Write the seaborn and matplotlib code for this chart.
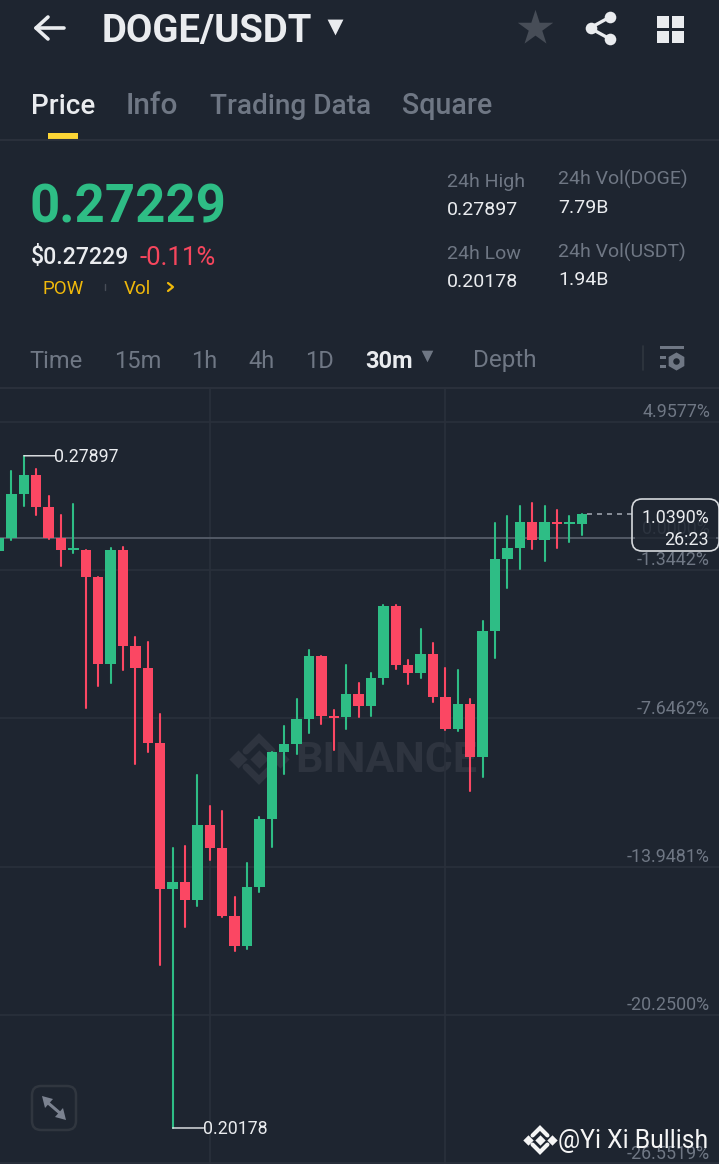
import matplotlib.pyplot as plt
import matplotlib.patches as mpatches
from matplotlib.transforms import ScaledTranslation
import pandas as pd
import seaborn as sns

# candles, in % from the chart's zero line (one candle per 30m)
open_pct = [-0.54, 0.00, 1.87, 2.68, 1.32, 0.00, -0.51, -0.51, -1.64, -5.32, -0.51, -4.58,
            -5.49, -8.70, -14.90, -14.61, -15.36, -12.16, -13.15, -16.04, -17.31, -14.81, -11.92, -9.06,
            -8.72, -7.66, -5.00, -7.55, -7.60, -6.60, -7.11, -5.94, -2.86, -5.38, -5.71, -4.92,
            -6.75, -8.11, -7.02, -9.30, -3.92, -0.88, -0.40, 0.68, -0.06, 0.68, 0.60, 0.62]
close_pct = [0.00, 1.87, 2.68, 1.32, 0.00, -0.51, -0.42, -1.64, -5.32, -0.51, -4.58, -5.49,
             -8.70, -14.90, -14.61, -15.36, -12.16, -13.15, -16.04, -17.31, -14.81, -11.92, -9.06, -8.72,
             -7.66, -5.00, -7.55, -7.63, -6.60, -7.11, -5.94, -2.86, -5.38, -5.71, -4.92, -6.75,
             -8.11, -7.02, -9.30, -3.92, -0.88, -0.40, 0.68, -0.06, 0.68, 0.60, 0.68, 1.04]
high_pct = [0.00, 2.88, 3.51, 2.94, 1.81, 1.01, 1.46, -0.51, -1.64, -0.42, -0.38, -4.20,
            -4.41, -7.45, -13.17, -13.08, -10.07, -11.37, -11.60, -15.22, -13.81, -11.85, -9.06, -7.97,
            -6.82, -4.74, -5.00, -7.30, -5.37, -6.13, -5.71, -2.84, -2.84, -5.18, -3.84, -4.46,
            -5.52, -5.60, -6.84, -3.52, 0.64, 0.96, 1.38, 1.49, 1.36, 1.21, 0.94, 1.04]
low_pct = [-0.54, -0.06, 1.38, 0.99, -0.04, -1.17, -0.61, -7.19, -6.26, -6.16, -5.59, -9.60,
           -9.06, -18.11, -25.05, -16.52, -15.62, -13.66, -16.09, -17.52, -17.43, -15.02, -13.10, -9.99,
           -9.17, -8.26, -7.87, -8.98, -8.09, -7.59, -7.53, -6.17, -5.56, -6.17, -5.92, -6.94,
           -8.13, -8.17, -10.73, -10.15, -5.09, -2.09, -1.29, -0.46, -0.95, -0.40, -0.17, 0.16]

tick_values = [4.9577, 0.0, -1.3442, -7.6462, -13.9481, -20.25, -26.5519]
tick_labels = ['4.9577%', '0.0000%', '-1.3442%', '-7.6462%', '-13.9481%', '-20.2500%', '-26.5519%']
x_grid = [17, 36]
high_label = '0.27897'
low_label = '0.20178'
last_pct = 1.039

BG = '#1e2530'
GRID = '#2a303b'
GREEN = '#2ebd85'
RED = '#fb4763'
GREY = '#6f7784'
WHITE = '#eaecef'
YELLOW = '#f0b90b'

sns.set_theme(style='dark')
plt.rcParams['font.family'] = ['Roboto', 'DejaVu Sans']

candles = pd.DataFrame({'i': range(len(open_pct)), 'open': open_pct, 'close': close_pct,
                        'high': high_pct, 'low': low_pct})
candles['bottom'] = candles[['open', 'close']].min(axis=1)
candles['body'] = (candles['close'] - candles['open']).abs().clip(lower=0.09)
candles['up'] = candles['close'] >= candles['open']

wicks = candles.melt(id_vars=['i', 'up'], value_vars=['low', 'high'], value_name='pct').sort_values(['i', 'pct'])

fig = plt.figure(figsize=(7.19, 11.64), dpi=100, facecolor=BG)


def binance_logo(axes, cx, cy, r, color, lw):
    # two chevrons and three small diamonds
    k = r * 0.62
    axes.plot([cx - k, cx, cx + k], [cy - r + k, cy - r, cy - r + k], color=color, linewidth=lw, solid_joinstyle='miter')
    axes.plot([cx - k, cx, cx + k], [cy + r - k, cy + r, cy + r - k], color=color, linewidth=lw, solid_joinstyle='miter')
    d = (r * 0.42) ** 2 * 1.1
    for x in [cx - r, cx, cx + r]:
        axes.scatter(x, cy, marker='D', s=d, color=color, linewidths=0)


# back layer for the watermark, pixel coordinates
back = fig.add_axes([0, 0, 1, 1], zorder=0)
back.set_xlim(0, 719)
back.set_ylim(1164, 0)
back.axis('off')
back.text(295, 761, 'BINANCE', color='#2e343f', fontsize=31, fontweight='bold', va='center')
binance_logo(back, 259, 759, 21, '#2e343f', 5)

# chart
ax = fig.add_axes([0, 0, 1, 776 / 1164], zorder=1)
ax.patch.set_alpha(0)
ax.set_xlim(0.0806, 58.06)
ax.set_ylim(-26.58, 6.39)
for side in ax.spines.values():
    side.set_visible(False)

sns.lineplot(data=wicks, x='i', y='pct', units='i', estimator=None, hue='up',
             palette={True: GREEN, False: RED}, linewidth=1.5, legend=False, ax=ax, zorder=3)
for is_up, color in [(True, GREEN), (False, RED)]:
    part = candles[candles['up'] == is_up]
    sns.barplot(data=part, x='i', y='body', native_scale=True, bottom=part['bottom'].values,
                width=0.84, color=color, saturation=1, errorbar=None, linewidth=0, ax=ax, zorder=4)

ax.set_xlim(0.0806, 58.06)
ax.set_ylim(-26.58, 6.39)
ax.set_xlabel('')
ax.set_ylabel('')
ax.set_xticks(x_grid)
ax.set_xticklabels([])
ax.yaxis.tick_right()
ax.set_yticks(tick_values)
ax.set_yticklabels(tick_labels, color=GREY, fontsize=12.9, ha='right', va='bottom')
ax.tick_params(axis='both', length=0)
ax.tick_params(axis='y', pad=-6.5)
ax.grid(True, color=GRID, linewidth=1.2)
ax.set_axisbelow(True)
nudge = ScaledTranslation(0, 0.5 / 72, fig.dpi_scale_trans)
for lab in ax.get_yticklabels():
    lab.set_transform(lab.get_transform() + nudge)

ax.axhline(0, color='#5f6672', linewidth=1.1, zorder=2)
ax.plot([47.4, 51.1], [last_pct, last_pct], color='#9aa0aa', linewidth=1.2, dashes=(3, 3), zorder=2)

for xi, value, text in [(2, high_pct[2], high_label), (14, low_pct[14], low_label)]:
    ax.annotate('', xy=(xi, value), xytext=(31, 0), textcoords='offset pixels',
                arrowprops=dict(arrowstyle='-', color=WHITE, linewidth=1, shrinkA=0, shrinkB=0), zorder=6)
    ax.annotate(text, xy=(xi, value), xytext=(30, -1), textcoords='offset pixels', color=WHITE, fontsize=12.8,
                va='center', zorder=6)

# app screen around the chart, pixel coordinates
ui = fig.add_axes([0, 0, 1, 1], zorder=2)
ui.patch.set_alpha(0)
ui.set_xlim(0, 719)
ui.set_ylim(1164, 0)
ui.axis('off')


def label(x, y, s, color=WHITE, size=14, weight='normal', **kw):
    ui.text(x, y + 2, s, color=color, fontsize=size, fontweight=weight, va='center', **kw)


ui.plot([36, 64], [28, 28], color=WHITE, linewidth=2.6)
ui.plot([48, 36, 48], [17, 28, 39], color=WHITE, linewidth=2.6)
label(102, 30, 'DOGE/USDT', size=27.5, weight='bold')
ui.scatter(335, 27, marker='v', s=130, color=WHITE, linewidths=0)
ui.scatter(535, 28, marker='*', s=720, color='#474d57', linewidths=0)
for x, y in [(610, 17), (610, 39)]:
    ui.plot([590, x], [28, y], color=WHITE, linewidth=2.4)
    ui.scatter(x, y, s=70, color=WHITE, linewidths=0)
ui.scatter(591, 28, s=70, color=WHITE, linewidths=0)
for x, y in [(657, 16), (672, 16), (657, 31), (672, 31)]:
    ui.add_patch(mpatches.Rectangle((x, y), 12, 12, color=WHITE, linewidth=0))

label(31, 104, 'Price', size=20, weight='medium')
label(126, 104, 'Info', GREY, 21.5, 'medium')
label(210, 104, 'Trading Data', GREY, 20.2, 'medium')
label(402, 104, 'Square', GREY, 20.6, 'medium')
ui.add_patch(mpatches.Rectangle((48, 133), 30, 6, color='#fcd535', linewidth=0))
ui.plot([0, 719], [139.5, 139.5], color=GRID, linewidth=1.5)

label(30, 206, '0.27229', GREEN, 38, 'bold')
label(31, 256, '$0.27229', WHITE, 16.7, 'medium')
label(140, 256, '-0.11%', '#f6465d', 18.5)
label(42, 287, 'POW', YELLOW, 13.5)
ui.plot([105, 105], [284, 290], color='#474d57', linewidth=1)
label(124, 287, 'Vol', YELLOW, 13.5)
ui.plot([168, 173, 168], [283, 287, 291], color=YELLOW, linewidth=1.6)

label(447, 180, '24h High', GREY, 14)
label(447, 208, '0.27897', WHITE, 14)
label(447, 252, '24h Low', GREY, 14)
label(447, 280, '0.20178', WHITE, 14)
label(558, 177, '24h Vol(DOGE)', GREY, 14)
label(558, 206, '7.79B', WHITE, 14)
label(558, 250, '24h Vol(USDT)', GREY, 14)
label(558, 278, '1.94B', WHITE, 14)

for x, s in [(29, 'Time'), (114, '15m'), (191, '1h'), (248, '4h'), (305, '1D'), (473, 'Depth')]:
    label(x, 359, s, GREY, 17.5 if s == 'Depth' else 17)
label(365, 359, '30m', WHITE, 17, 'bold')
ui.scatter(427, 356, marker='v', s=70, color=GREY, linewidths=0)
ui.plot([643, 643], [346, 370], color='#30363f', linewidth=1.2)
ui.add_patch(mpatches.Rectangle((660, 346), 24, 3, color=GREY, linewidth=0))
ui.add_patch(mpatches.Rectangle((660, 356), 6, 3, color=GREY, linewidth=0))
ui.add_patch(mpatches.Rectangle((660, 365), 6, 3, color=GREY, linewidth=0))
ui.scatter(676, 361, marker='h', s=170, color=GREY, linewidths=0)
ui.scatter(676, 361, s=22, color=BG, linewidths=0)
ui.plot([0, 719], [388, 388], color=GRID, linewidth=1.5)

# current price box, the axis labels show through it
ui.add_patch(mpatches.FancyBboxPatch((635, 502), 81, 46, boxstyle='round,pad=0,rounding_size=9',
                                     facecolor=BG, edgecolor='none', alpha=0.82))
ui.add_patch(mpatches.FancyBboxPatch((632, 499), 87, 52, boxstyle='round,pad=0,rounding_size=10',
                                     facecolor='none', edgecolor='#d5d8dc', linewidth=1.2))
label(709, 516, '1.0390%', WHITE, 12.9, ha='right')
label(709, 538, '26:23', WHITE, 12.9, ha='right')

ui.add_patch(mpatches.FancyBboxPatch((32, 1086), 44, 44, boxstyle='round,pad=0,rounding_size=9',
                                     facecolor='none', edgecolor='#30363f', linewidth=1.8))
ui.plot([47, 61], [1102, 1114], color='#7b8290', linewidth=2.2)
ui.add_patch(mpatches.Polygon([(42, 1096), (53, 1099), (45, 1108)], color='#7b8290', linewidth=0))
ui.add_patch(mpatches.Polygon([(66, 1120), (55, 1117), (63, 1108)], color='#7b8290', linewidth=0))

# repost tag at the bottom right
binance_logo(ui, 540, 1140, 12, '#f5f5f5', 3)
label(558, 1139, '@Yi Xi Bullish', '#f5f5f5', 17.8)

fig.savefig('out.png', dpi=100, facecolor=BG)
